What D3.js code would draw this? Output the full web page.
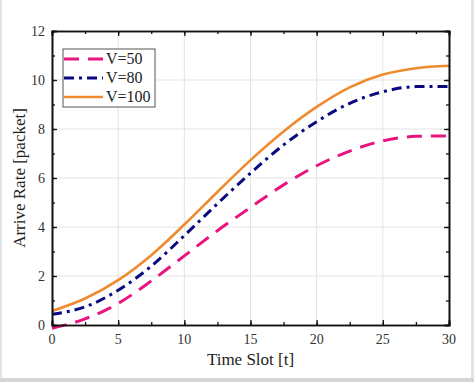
<!DOCTYPE html>
<html><head><meta charset="utf-8">
<script src="https://cdn.jsdelivr.net/npm/d3@7"></script>
<style>body{margin:0;background:#fff}svg{display:block}</style>
</head><body>
<script>
const timeSlots = [0, 2.5, 5, 7.5, 10, 12.5, 15, 17.5, 20, 22.5, 25, 27.5, 30];
const v50  = [-0.13, 0.25, 0.88, 1.8, 2.82, 3.85, 4.8, 5.72, 6.5, 7.1, 7.52, 7.7, 7.72];
const v80  = [0.44, 0.74, 1.42, 2.4, 3.65, 4.95, 6.2, 7.35, 8.3, 9.05, 9.52, 9.73, 9.74];
const v100 = [0.57, 1.08, 1.83, 2.85, 4.1, 5.43, 6.73, 7.9, 8.9, 9.7, 10.22, 10.48, 10.58];
const seriesNames = ["V=50", "V=80", "V=100"];
const xTicks = [0, 5, 10, 15, 20, 25, 30];
const yTicks = [0, 2, 4, 6, 8, 10, 12];

const W = 474, H = 382;
const m = {l: 52, r: 25, t: 31, b: 57};
const svg = d3.select("body").append("svg").attr("width", W).attr("height", H);
svg.append("rect").attr("width", W).attr("height", H).attr("fill", "#fff");
// outer frame strips
svg.append("rect").attr("x", 0).attr("y", 0).attr("width", 2).attr("height", H).attr("fill", "#e2e2e2");
svg.append("rect").attr("x", W - 3).attr("y", 0).attr("width", 3).attr("height", H).attr("fill", "#e2e2e2");
svg.append("rect").attr("x", 0).attr("y", H - 4).attr("width", W).attr("height", 4).attr("fill", "#d6d6d6");

const x = d3.scaleLinear().domain([0, 30]).range([m.l, W - m.r]);
const y = d3.scaleLinear().domain([0, 12]).range([H - m.b, m.t]);
const font = "'Liberation Serif', 'Times New Roman', serif";

// grid
const g = svg.append("g");
g.selectAll(".gx").data(xTicks.slice(1, -1)).join("line")
  .attr("x1", d => x(d)).attr("x2", d => x(d)).attr("y1", y(0)).attr("y2", y(12))
  .attr("stroke", "#e3e3e3").attr("stroke-width", 1);
g.selectAll(".gy").data(yTicks.slice(1, -1)).join("line")
  .attr("y1", d => y(d)).attr("y2", d => y(d)).attr("x1", x(0)).attr("x2", x(30))
  .attr("stroke", "#e3e3e3").attr("stroke-width", 1);

// lines
const line = d3.line().x((d, i) => x(timeSlots[i])).y(d => y(d)).curve(d3.curveMonotoneX);
const styles = [
  {data: v50, color: "#e8157f", dash: "15,9", w: 3},
  {data: v80, color: "#0a0a80", dash: "10,5,3,5", w: 3},
  {data: v100, color: "#f08a2e", dash: null, w: 2.6}
];
styles.forEach(s => {
  svg.append("path").attr("d", line(s.data)).attr("fill", "none")
    .attr("stroke", s.color).attr("stroke-width", s.w)
    .attr("stroke-dasharray", s.dash);
});

// axes with inward ticks
const minorX = d3.range(0, 30.01, 2.5);
const minorY = d3.range(0, 12.01, 1);
function mkAxis(axis, scale, ticks, size) {
  return axis(scale).tickValues(ticks).tickSize(size).tickFormat("");
}
const ax = svg.append("g").attr("class", "axes");
ax.append("g").attr("transform", `translate(0,${y(0)})`).call(mkAxis(d3.axisTop, x, minorX, 3));
ax.append("g").attr("transform", `translate(0,${y(0)})`).call(mkAxis(d3.axisTop, x, xTicks, 5));
ax.append("g").attr("transform", `translate(0,${y(12)})`).call(mkAxis(d3.axisBottom, x, minorX, 3));
ax.append("g").attr("transform", `translate(0,${y(12)})`).call(mkAxis(d3.axisBottom, x, xTicks, 5));
ax.append("g").attr("transform", `translate(${x(0)},0)`).call(mkAxis(d3.axisRight, y, minorY, 3));
ax.append("g").attr("transform", `translate(${x(0)},0)`).call(mkAxis(d3.axisRight, y, yTicks, 5));
ax.append("g").attr("transform", `translate(${x(30)},0)`).call(mkAxis(d3.axisLeft, y, minorY, 3));
ax.append("g").attr("transform", `translate(${x(30)},0)`).call(mkAxis(d3.axisLeft, y, yTicks, 5));
ax.selectAll(".domain").attr("stroke", "#111").attr("stroke-width", 1.6);
ax.selectAll(".tick line").attr("stroke", "#111").attr("stroke-width", 1.3);

// tick labels
svg.selectAll(".xl").data(xTicks).join("text")
  .attr("x", d => x(d)).attr("y", y(0) + 19).attr("text-anchor", "middle")
  .attr("font-family", font).attr("font-size", 14).attr("fill", "#333").text(d => d);
svg.selectAll(".yl").data(yTicks).join("text")
  .attr("x", x(0) - 7).attr("y", d => y(d) + 5).attr("text-anchor", "end")
  .attr("font-family", font).attr("font-size", 14).attr("fill", "#333").text(d => d);

// axis titles
svg.append("text").attr("x", (x(0) + x(30)) / 2).attr("y", 365).attr("text-anchor", "middle")
  .attr("font-family", font).attr("font-size", 17).attr("fill", "#222").text("Time Slot [t]");
svg.append("text").attr("transform", `translate(25,${(y(0) + y(12)) / 2}) rotate(-90)`)
  .attr("text-anchor", "middle").attr("font-family", font).attr("font-size", 17).attr("fill", "#222")
  .text("Arrive Rate [packet]");

// legend
const lg = svg.append("g").attr("transform", "translate(63,49)");
lg.append("rect").attr("width", 92).attr("height", 58).attr("fill", "#fff")
  .attr("stroke", "#555").attr("stroke-width", 1);
styles.forEach((s, i) => {
  const yy = 10 + i * 19;
  lg.append("line").attr("x1", 1).attr("x2", 40).attr("y1", yy).attr("y2", yy)
    .attr("stroke", s.color).attr("stroke-width", s.w).attr("stroke-dasharray", s.dash);
  lg.append("text").attr("x", 43).attr("y", yy + 5).attr("font-family", font).attr("font-size", 16)
    .attr("fill", "#222").text(seriesNames[i]);
});
</script>
</body></html>
